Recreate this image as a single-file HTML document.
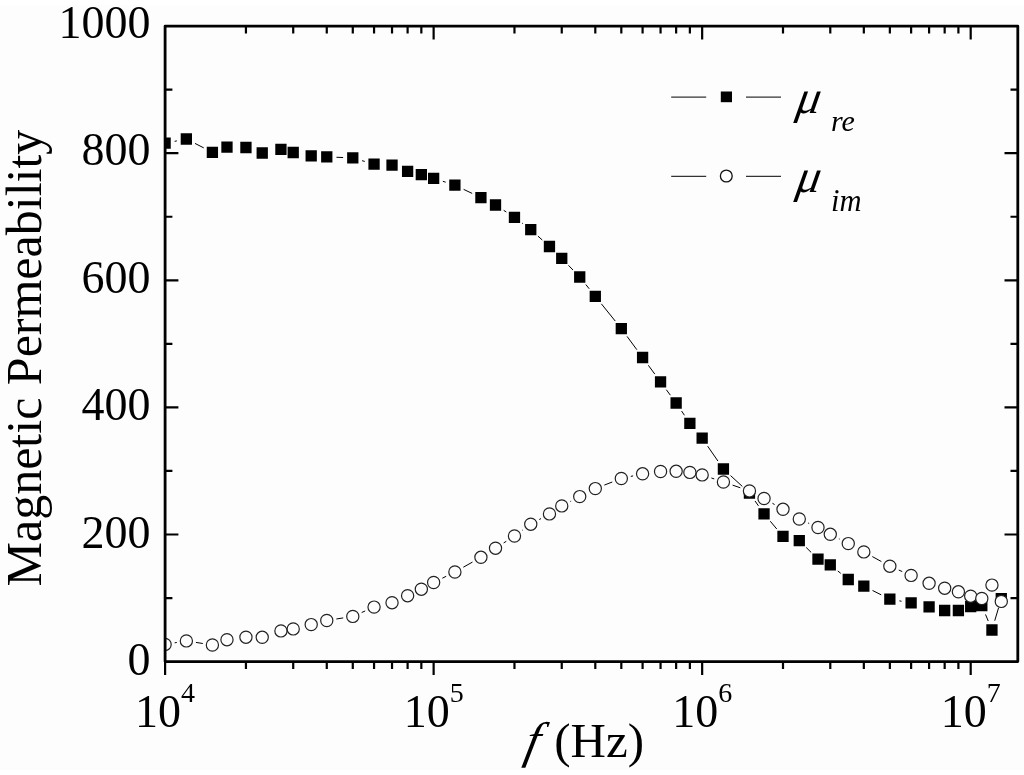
<!DOCTYPE html><html><head><meta charset="utf-8"><title>Magnetic Permeability</title><style>html,body{margin:0;padding:0;background:#fdfdfd;}body{width:1024px;height:775px;overflow:hidden;}svg{display:block;filter:blur(0.35px);}text{font-family:"Liberation Serif","Times New Roman",serif;fill:#000;}</style></head><body><svg width="1024" height="775" viewBox="0 0 1024 775"><rect x="0" y="0" width="1024" height="775" fill="#fdfdfd"/><rect x="0" y="0" width="1024" height="5" fill="#fff"/><rect x="0" y="770" width="1024" height="5" fill="#fff"/><clipPath id="c"><rect x="165.1" y="26.1" width="852.6999999999999" height="635.5"/></clipPath><g clip-path="url(#c)"><path d="M174.62 141.32L176.85 140.88M195.00 143.41L203.75 147.89M336.46 157.27L343.10 157.53M362.09 160.66L364.76 161.44M442.86 181.29L445.67 182.21M463.65 189.37L472.16 193.43M503.65 210.28L506.33 212.02M522.21 223.14L523.02 223.76M537.96 236.10L542.27 240.00M568.49 265.37L572.99 270.03M585.82 284.55L589.21 288.75M601.39 303.85L615.24 321.05M627.07 336.41L636.84 349.69M648.34 365.31L654.81 374.09M666.32 389.70L670.38 395.20M681.57 411.03L684.44 415.27M707.67 446.18L717.91 461.02M730.55 475.58L742.32 486.42M755.02 500.94L758.47 505.86M770.28 521.23L776.76 528.97M806.17 547.44L811.12 552.36M837.79 570.94L840.75 573.36M872.50 590.46L881.19 594.84M899.41 600.86L901.56 601.24M985.52 614.46L988.24 621.04M994.72 620.70L998.52 608.00" fill="none" stroke="#000" stroke-width="1.0"/><path d="M159.45 137.55h11.3v11.3h-11.3zM180.71 133.35h11.3v11.3h-11.3zM206.74 146.65h11.3v11.3h-11.3zM221.33 141.55h11.3v11.3h-11.3zM240.29 141.85h11.3v11.3h-11.3zM256.58 147.35h11.3v11.3h-11.3zM275.28 143.75h11.3v11.3h-11.3zM287.57 146.85h11.3v11.3h-11.3zM305.55 150.25h11.3v11.3h-11.3zM321.12 151.25h11.3v11.3h-11.3zM347.14 152.25h11.3v11.3h-11.3zM368.41 158.55h11.3v11.3h-11.3zM386.38 159.55h11.3v11.3h-11.3zM401.96 165.65h11.3v11.3h-11.3zM415.69 169.05h11.3v11.3h-11.3zM427.98 172.65h11.3v11.3h-11.3zM449.24 179.55h11.3v11.3h-11.3zM475.27 191.95h11.3v11.3h-11.3zM489.86 199.35h11.3v11.3h-11.3zM508.82 211.65h11.3v11.3h-11.3zM525.11 223.95h11.3v11.3h-11.3zM543.81 240.85h11.3v11.3h-11.3zM556.10 252.75h11.3v11.3h-11.3zM574.08 271.35h11.3v11.3h-11.3zM589.65 290.65h11.3v11.3h-11.3zM615.67 322.95h11.3v11.3h-11.3zM636.94 351.85h11.3v11.3h-11.3zM654.91 376.25h11.3v11.3h-11.3zM670.49 397.35h11.3v11.3h-11.3zM684.22 417.65h11.3v11.3h-11.3zM696.51 432.55h11.3v11.3h-11.3zM717.77 463.35h11.3v11.3h-11.3zM743.80 487.35h11.3v11.3h-11.3zM758.39 508.15h11.3v11.3h-11.3zM777.35 530.75h11.3v11.3h-11.3zM793.64 534.95h11.3v11.3h-11.3zM812.34 553.55h11.3v11.3h-11.3zM824.63 559.15h11.3v11.3h-11.3zM842.61 573.85h11.3v11.3h-11.3zM858.18 580.45h11.3v11.3h-11.3zM884.20 593.55h11.3v11.3h-11.3zM905.47 597.25h11.3v11.3h-11.3zM923.44 601.15h11.3v11.3h-11.3zM939.02 604.85h11.3v11.3h-11.3zM952.75 604.85h11.3v11.3h-11.3zM965.04 601.05h11.3v11.3h-11.3zM976.16 599.85h11.3v11.3h-11.3zM986.30 624.35h11.3v11.3h-11.3zM995.64 593.05h11.3v11.3h-11.3z" fill="#000"/><path d="M174.67 642.82L176.79 642.48M195.94 642.41L202.80 643.49M336.35 618.99L343.21 617.91M361.68 612.51L365.17 610.99M442.33 578.21L446.20 576.29M463.34 567.23L472.47 562.07M503.67 542.95L506.31 541.25M522.32 530.31L522.91 529.89M539.26 519.52L540.97 518.58M570.37 501.44L571.11 501.06M604.34 485.09L612.28 482.01M630.80 476.41L633.12 475.89M711.36 477.97L714.22 478.93M732.60 485.14L740.27 487.76M772.47 503.30L774.57 504.50M808.13 523.01L809.16 523.49M838.90 538.76L839.64 539.14M872.33 556.57L881.35 561.53M898.76 570.05L902.21 571.55" fill="none" stroke="#000" stroke-width="1.0"/><circle cx="165.10" cy="644.40" r="6.1" fill="#fdfdfd" stroke="#222" stroke-width="1.2"/><circle cx="186.36" cy="640.90" r="6.1" fill="#fdfdfd" stroke="#222" stroke-width="1.2"/><circle cx="212.39" cy="645.00" r="6.1" fill="#fdfdfd" stroke="#222" stroke-width="1.2"/><circle cx="226.98" cy="639.70" r="6.1" fill="#fdfdfd" stroke="#222" stroke-width="1.2"/><circle cx="245.94" cy="637.20" r="6.1" fill="#fdfdfd" stroke="#222" stroke-width="1.2"/><circle cx="262.23" cy="637.30" r="6.1" fill="#fdfdfd" stroke="#222" stroke-width="1.2"/><circle cx="280.93" cy="630.90" r="6.1" fill="#fdfdfd" stroke="#222" stroke-width="1.2"/><circle cx="293.22" cy="628.90" r="6.1" fill="#fdfdfd" stroke="#222" stroke-width="1.2"/><circle cx="311.20" cy="624.60" r="6.1" fill="#fdfdfd" stroke="#222" stroke-width="1.2"/><circle cx="326.77" cy="620.50" r="6.1" fill="#fdfdfd" stroke="#222" stroke-width="1.2"/><circle cx="352.79" cy="616.40" r="6.1" fill="#fdfdfd" stroke="#222" stroke-width="1.2"/><circle cx="374.06" cy="607.10" r="6.1" fill="#fdfdfd" stroke="#222" stroke-width="1.2"/><circle cx="392.03" cy="602.70" r="6.1" fill="#fdfdfd" stroke="#222" stroke-width="1.2"/><circle cx="407.61" cy="595.70" r="6.1" fill="#fdfdfd" stroke="#222" stroke-width="1.2"/><circle cx="421.34" cy="589.20" r="6.1" fill="#fdfdfd" stroke="#222" stroke-width="1.2"/><circle cx="433.63" cy="582.50" r="6.1" fill="#fdfdfd" stroke="#222" stroke-width="1.2"/><circle cx="454.89" cy="572.00" r="6.1" fill="#fdfdfd" stroke="#222" stroke-width="1.2"/><circle cx="480.92" cy="557.30" r="6.1" fill="#fdfdfd" stroke="#222" stroke-width="1.2"/><circle cx="495.51" cy="548.20" r="6.1" fill="#fdfdfd" stroke="#222" stroke-width="1.2"/><circle cx="514.47" cy="536.00" r="6.1" fill="#fdfdfd" stroke="#222" stroke-width="1.2"/><circle cx="530.76" cy="524.20" r="6.1" fill="#fdfdfd" stroke="#222" stroke-width="1.2"/><circle cx="549.46" cy="513.90" r="6.1" fill="#fdfdfd" stroke="#222" stroke-width="1.2"/><circle cx="561.75" cy="505.90" r="6.1" fill="#fdfdfd" stroke="#222" stroke-width="1.2"/><circle cx="579.73" cy="496.60" r="6.1" fill="#fdfdfd" stroke="#222" stroke-width="1.2"/><circle cx="595.30" cy="488.60" r="6.1" fill="#fdfdfd" stroke="#222" stroke-width="1.2"/><circle cx="621.32" cy="478.50" r="6.1" fill="#fdfdfd" stroke="#222" stroke-width="1.2"/><circle cx="642.59" cy="473.80" r="6.1" fill="#fdfdfd" stroke="#222" stroke-width="1.2"/><circle cx="660.56" cy="471.50" r="6.1" fill="#fdfdfd" stroke="#222" stroke-width="1.2"/><circle cx="676.14" cy="471.30" r="6.1" fill="#fdfdfd" stroke="#222" stroke-width="1.2"/><circle cx="689.87" cy="472.40" r="6.1" fill="#fdfdfd" stroke="#222" stroke-width="1.2"/><circle cx="702.16" cy="474.90" r="6.1" fill="#fdfdfd" stroke="#222" stroke-width="1.2"/><circle cx="723.42" cy="482.00" r="6.1" fill="#fdfdfd" stroke="#222" stroke-width="1.2"/><circle cx="749.45" cy="490.90" r="6.1" fill="#fdfdfd" stroke="#222" stroke-width="1.2"/><circle cx="764.04" cy="498.50" r="6.1" fill="#fdfdfd" stroke="#222" stroke-width="1.2"/><circle cx="783.00" cy="509.30" r="6.1" fill="#fdfdfd" stroke="#222" stroke-width="1.2"/><circle cx="799.29" cy="519.00" r="6.1" fill="#fdfdfd" stroke="#222" stroke-width="1.2"/><circle cx="817.99" cy="527.50" r="6.1" fill="#fdfdfd" stroke="#222" stroke-width="1.2"/><circle cx="830.28" cy="534.30" r="6.1" fill="#fdfdfd" stroke="#222" stroke-width="1.2"/><circle cx="848.26" cy="543.60" r="6.1" fill="#fdfdfd" stroke="#222" stroke-width="1.2"/><circle cx="863.83" cy="551.90" r="6.1" fill="#fdfdfd" stroke="#222" stroke-width="1.2"/><circle cx="889.85" cy="566.20" r="6.1" fill="#fdfdfd" stroke="#222" stroke-width="1.2"/><circle cx="911.12" cy="575.40" r="6.1" fill="#fdfdfd" stroke="#222" stroke-width="1.2"/><circle cx="929.09" cy="583.30" r="6.1" fill="#fdfdfd" stroke="#222" stroke-width="1.2"/><circle cx="944.67" cy="588.20" r="6.1" fill="#fdfdfd" stroke="#222" stroke-width="1.2"/><circle cx="958.40" cy="591.80" r="6.1" fill="#fdfdfd" stroke="#222" stroke-width="1.2"/><circle cx="970.69" cy="596.20" r="6.1" fill="#fdfdfd" stroke="#222" stroke-width="1.2"/><circle cx="981.81" cy="598.50" r="6.1" fill="#fdfdfd" stroke="#222" stroke-width="1.2"/><circle cx="991.95" cy="585.10" r="6.1" fill="#fdfdfd" stroke="#222" stroke-width="1.2"/><circle cx="1001.29" cy="601.40" r="6.1" fill="#fdfdfd" stroke="#222" stroke-width="1.2"/></g><path d="M165.1 26.1H1017.8V661.6H165.1Z" fill="none" stroke="#000" stroke-width="2.8" stroke-linejoin="round"/><path d="M165.10 661.6v13.3M245.94 661.6v7.3M245.94 26.1v7.3M293.22 661.6v7.3M293.22 26.1v7.3M326.77 661.6v7.3M326.77 26.1v7.3M352.79 661.6v7.3M352.79 26.1v7.3M374.06 661.6v7.3M374.06 26.1v7.3M392.03 661.6v7.3M392.03 26.1v7.3M407.61 661.6v7.3M407.61 26.1v7.3M421.34 661.6v7.3M421.34 26.1v7.3M433.63 661.6v13.3M433.63 26.1v13.3M514.47 661.6v7.3M514.47 26.1v7.3M561.75 661.6v7.3M561.75 26.1v7.3M595.30 661.6v7.3M595.30 26.1v7.3M621.32 661.6v7.3M621.32 26.1v7.3M642.59 661.6v7.3M642.59 26.1v7.3M660.56 661.6v7.3M660.56 26.1v7.3M676.14 661.6v7.3M676.14 26.1v7.3M689.87 661.6v7.3M689.87 26.1v7.3M702.16 661.6v13.3M702.16 26.1v13.3M783.00 661.6v7.3M783.00 26.1v7.3M830.28 661.6v7.3M830.28 26.1v7.3M863.83 661.6v7.3M863.83 26.1v7.3M889.85 661.6v7.3M889.85 26.1v7.3M911.12 661.6v7.3M911.12 26.1v7.3M929.09 661.6v7.3M929.09 26.1v7.3M944.67 661.6v7.3M944.67 26.1v7.3M958.40 661.6v7.3M958.40 26.1v7.3M970.69 661.6v13.3M970.69 26.1v13.3M165.1 598.05h7.3M1017.8 598.05h-7.3M165.1 534.50h13.3M1017.8 534.50h-13.3M165.1 470.95h7.3M1017.8 470.95h-7.3M165.1 407.40h13.3M1017.8 407.40h-13.3M165.1 343.85h7.3M1017.8 343.85h-7.3M165.1 280.30h13.3M1017.8 280.30h-13.3M165.1 216.75h7.3M1017.8 216.75h-7.3M165.1 153.20h13.3M1017.8 153.20h-13.3M165.1 89.65h7.3M1017.8 89.65h-7.3" fill="none" stroke="#000" stroke-width="2.2"/><text x="150.5" y="659.20" font-size="46" text-anchor="end" dominant-baseline="central">0</text><text x="150.5" y="532.50" font-size="46" text-anchor="end" dominant-baseline="central">200</text><text x="150.5" y="404.35" font-size="46" text-anchor="end" dominant-baseline="central">400</text><text x="150.5" y="277.70" font-size="46" text-anchor="end" dominant-baseline="central">600</text><text x="150.5" y="149.65" font-size="46" text-anchor="end" dominant-baseline="central">800</text><text x="150.5" y="22.90" font-size="46" text-anchor="end" dominant-baseline="central">1000</text><text x="165.10" y="726.5" font-size="46" text-anchor="middle">10<tspan font-size="28" dy="-25">4</tspan></text><text x="433.63" y="726.5" font-size="46" text-anchor="middle">10<tspan font-size="28" dy="-25">5</tspan></text><text x="702.16" y="726.5" font-size="46" text-anchor="middle">10<tspan font-size="28" dy="-25">6</tspan></text><text x="970.69" y="726.5" font-size="46" text-anchor="middle">10<tspan font-size="28" dy="-25">7</tspan></text><text transform="translate(523 757) skewX(-12)" font-size="50" font-style="italic">f</text><text x="554.3" y="757" font-size="49">(Hz)</text><text transform="translate(40.5 586.5) rotate(-90)" font-size="50">Magnetic Permeability</text><path d="M671.2 97.1H706.2M746 97.1H781M671.2 176.3H706.2M746 176.3H781" stroke="#000" stroke-width="1"/><rect x="720.8" y="91.5" width="11.2" height="10.7" fill="#000"/><circle cx="726.3" cy="176" r="5.9" fill="#fdfdfd" stroke="#111" stroke-width="1.3"/><text transform="translate(795 112.5) skewX(-10)" font-size="47" font-style="italic">μ</text><text x="831" y="131.2" font-size="30" font-style="italic">re</text><text transform="translate(795 191.5) skewX(-10)" font-size="47" font-style="italic">μ</text><text x="831" y="210.7" font-size="30.5" font-style="italic">im</text></svg></body></html>
